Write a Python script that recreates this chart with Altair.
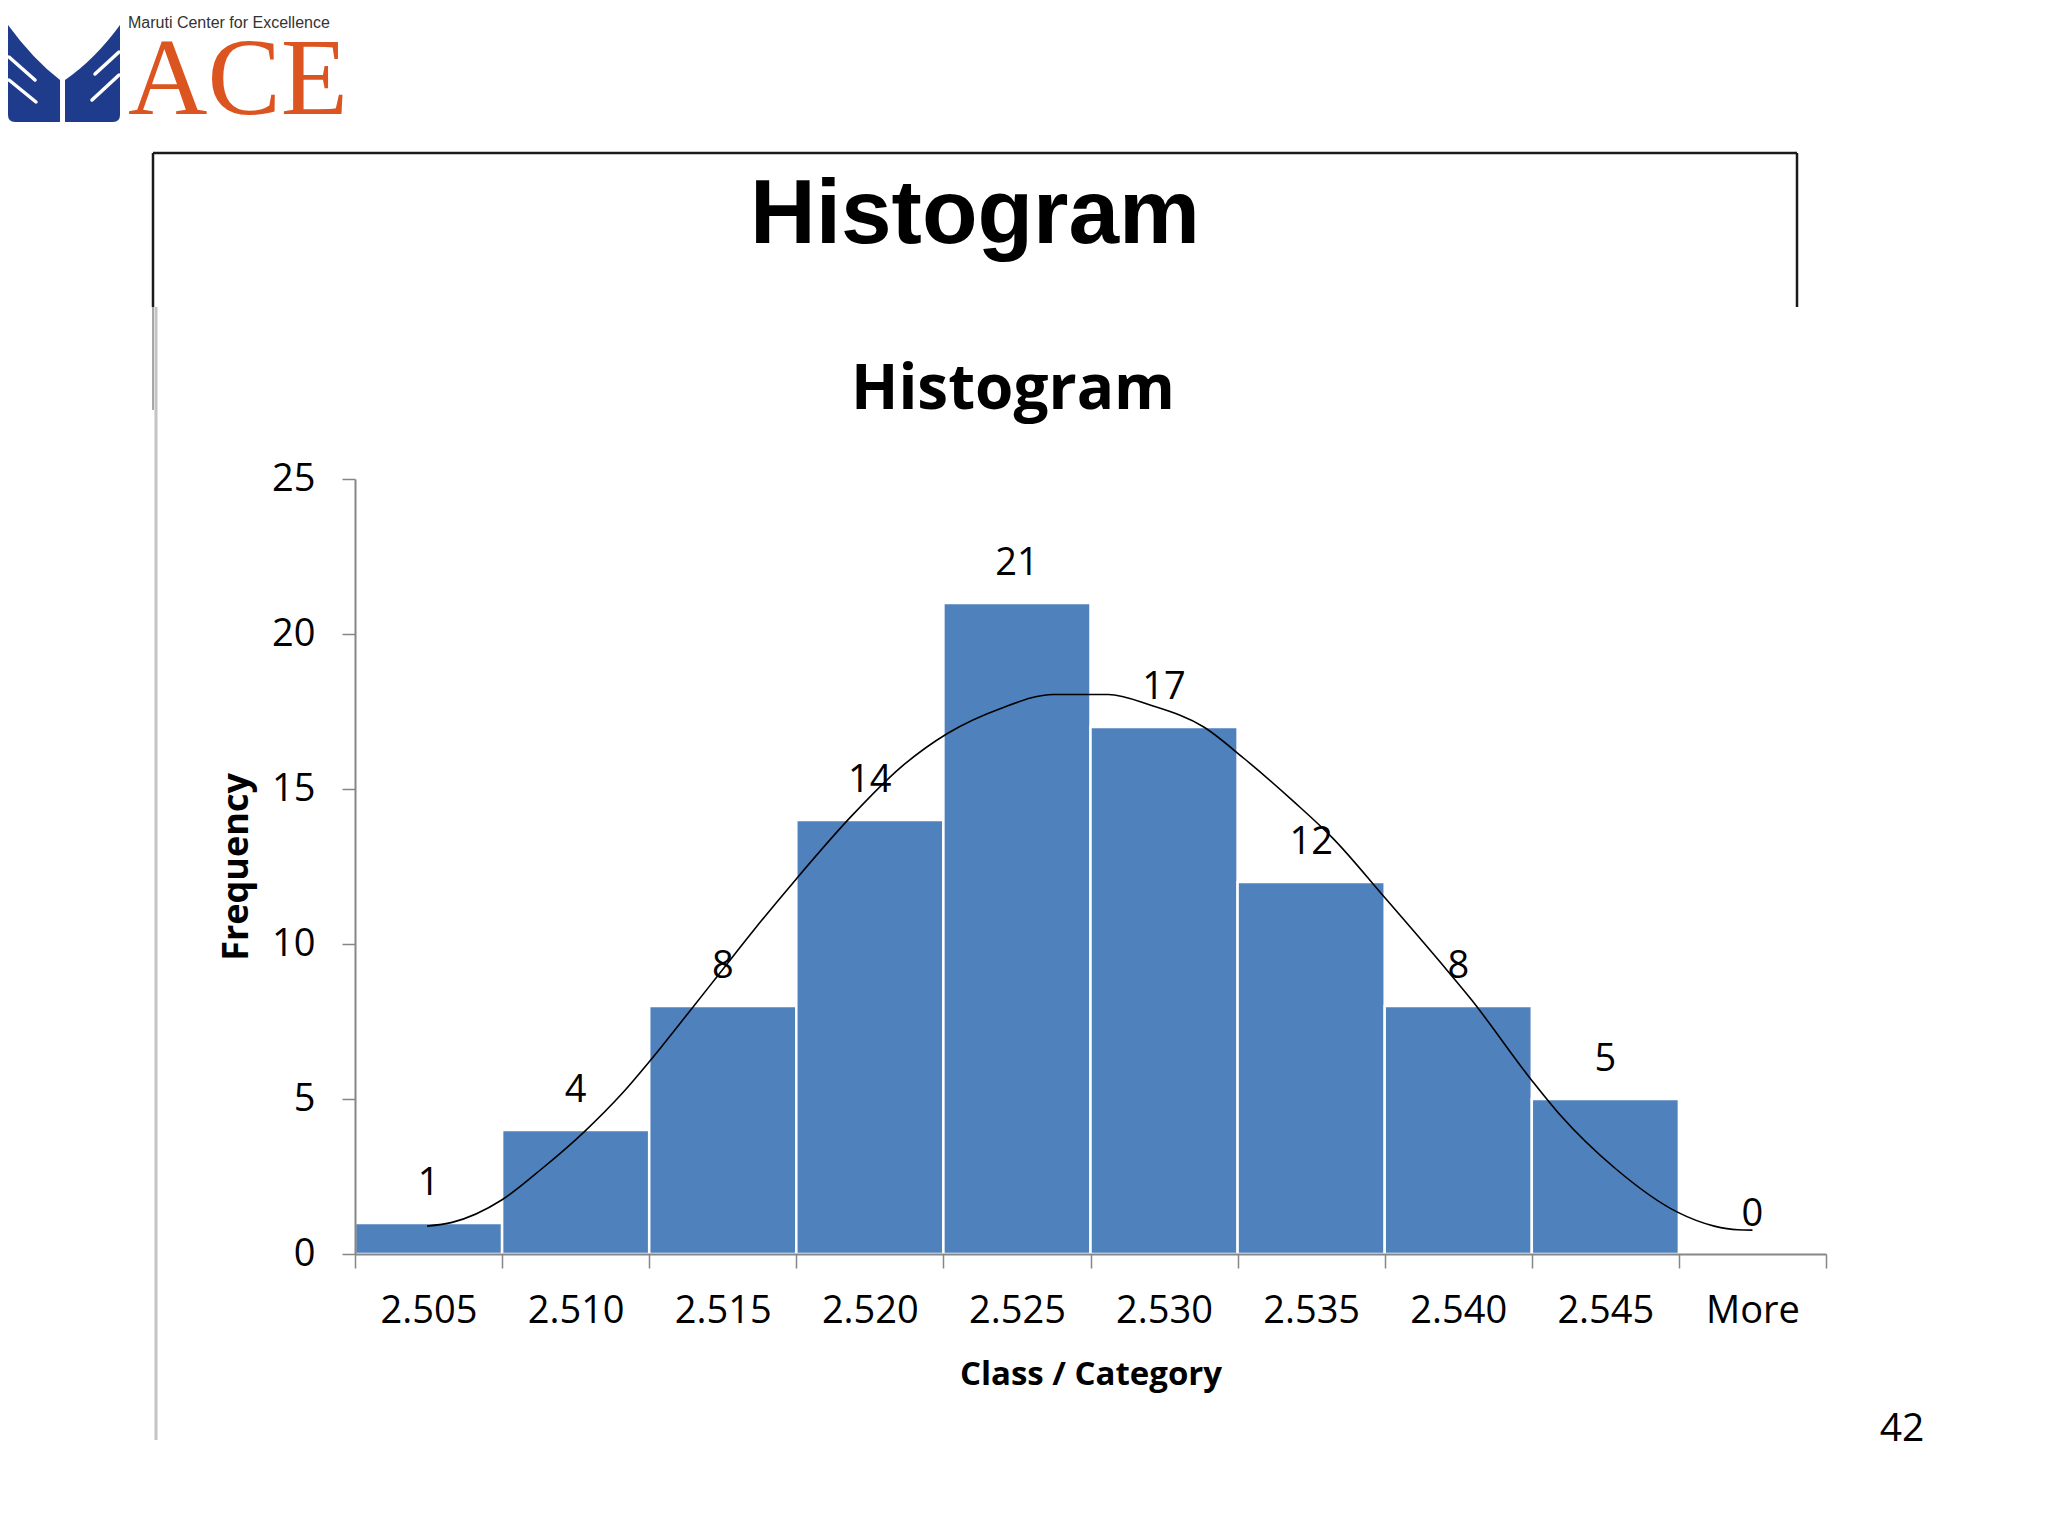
import json

import altair as alt
import pandas as pd

# ---------------------------------------------------------------- data
categories = ["2.505", "2.510", "2.515", "2.520", "2.525",
              "2.530", "2.535", "2.540", "2.545", "More"]
frequencies = [1, 4, 8, 14, 21, 17, 12, 8, 5, 0]

# smoothed fit curve; position in bin units from the left end of the axis
curve_pos = [0.49, 0.66, 1.0, 1.27, 1.56, 1.82, 2.0, 2.27, 2.47, 2.72, 3.0,
             3.37, 3.71, 4.03, 4.39, 4.75, 5.12, 5.41, 5.77, 6.04, 6.38,
             6.65, 7.0, 7.38, 7.59, 8.0, 8.19, 8.57, 8.99, 9.24, 9.4, 9.5]
curve_freq = [0.9, 1.02, 1.75, 2.75, 3.95, 5.2, 6.2, 7.8, 9.0, 10.5, 12.1,
              14.1, 15.7, 16.8, 17.6, 18.05, 18.05, 17.7, 17.0, 16.0, 14.6,
              13.4, 11.5, 9.4, 8.2, 5.6, 4.5, 2.75, 1.35, 0.9, 0.78, 0.77]
y_ticks = [0, 5, 10, 15, 20, 25]

X_TITLE = "Class / Category"
Y_TITLE = "Frequency"

# ---------------------------------------------------------------- layout
CANVAS_W, CANVAS_H = 2048, 1536
LEFT, TOP = 355, 479
PLOT_W, PLOT_H = 1471, 775

FONT = "Open Sans"
AXIS_GRAY = "#868686"
BAR_BLUE = "#4F81BD"


def px(x):
    return x - LEFT


def py(y):
    return y - TOP


n = len(categories)
bins = pd.DataFrame({"category": categories, "freq": frequencies,
                     "start": list(range(n))})
bins["end"] = bins["start"] + 1
bins["mid"] = bins["start"] + 0.5
fit = pd.DataFrame({"pos": curve_pos, "freq": curve_freq})
one = pd.DataFrame({"k": [0]})

label_expr = f"datum.value < {n} ? {json.dumps(categories)}[datum.value] : ''"

x_scale = alt.Scale(domain=[0, n], nice=False, zero=False)
y_scale = alt.Scale(domain=[y_ticks[0], y_ticks[-1]], nice=False)

x_axis = alt.Axis(
    values=list(range(n + 1)), labelExpr=label_expr,
    labelOffset=PLOT_W / n / 2, labelFlush=False, labelOverlap=False,
    labelFont=FONT, labelFontSize=38, labelColor="black", labelPadding=24,
    tickSize=14, tickColor=AXIS_GRAY, tickWidth=1.5,
    domainColor=AXIS_GRAY, domainWidth=2, grid=False,
    titleFont=FONT, titleFontSize=33,
    titleFontWeight="bold", titleColor="black", titlePadding=28, zindex=1,
)
y_axis = alt.Axis(
    values=y_ticks, labelFont=FONT, labelFontSize=38, labelColor="black",
    labelPadding=27, tickSize=13, tickColor=AXIS_GRAY, tickWidth=1.5,
    domainColor=AXIS_GRAY, domainWidth=2, grid=False,
    titleFont=FONT, titleFontSize=36,
    titleFontWeight="bold", titleColor="black", titlePadding=16, zindex=1,
)

bars = alt.Chart(bins).mark_bar(
    color=BAR_BLUE, stroke="white", strokeWidth=2.5
).encode(
    x=alt.X("start:Q", scale=x_scale, axis=x_axis, title=X_TITLE),
    x2="end:Q",
    y=alt.Y("freq:Q", scale=y_scale, axis=y_axis, title=Y_TITLE),
    y2=alt.datum(0),
)

fit_line = alt.Chart(fit).mark_line(
    color="black", strokeWidth=1.6, interpolate="monotone"
).encode(
    x=alt.X("pos:Q", title=X_TITLE),
    y=alt.Y("freq:Q", title=Y_TITLE),
)

value_labels = alt.Chart(bins).mark_text(
    font=FONT, fontSize=38, baseline="alphabetic", dy=-28, color="black"
).encode(
    x=alt.X("mid:Q", title=X_TITLE),
    y=alt.Y("freq:Q", title=Y_TITLE),
    text="freq:Q",
)


def text_at(x, y, text, **kw):
    return alt.Chart(one).mark_text(text=text, baseline="alphabetic", **kw).encode(
        x=alt.value(px(x)), y=alt.value(py(y)))


def rule(x1, y1, x2, y2, color, width, cap="butt"):
    return alt.Chart(one).mark_rule(
        color=color, strokeWidth=width, strokeCap=cap
    ).encode(x=alt.value(px(x1)), y=alt.value(py(y1)),
             x2=alt.value(px(x2)), y2=alt.value(py(y2)))


chart_title = text_at(1013, 409, "Histogram", font=FONT, fontSize=62,
                      fontWeight="bold", align="center", color="black")
slide_title = text_at(975, 243, "Histogram", font="Liberation Sans",
                      fontSize=91, fontWeight="bold", align="center",
                      color="black")
slide_number = text_at(1902, 1441, "42", font=FONT, fontSize=39,
                       align="center", color="black")

# slide frame and the edge of the embedded chart picture
frame = [
    rule(153, 153, 1797, 153, "#1a1a1a", 2.5),
    rule(153, 153, 153, 307, "#1a1a1a", 2.5),
    rule(1797, 153, 1797, 307, "#1a1a1a", 2.5),
    rule(156, 307, 156, 1440, "#c4c4c4", 3),
    rule(153, 307, 153, 410, "#8a8a8a", 1.5),
]

# logo: two wings, tagline and lettering
wings_path = (
    "M -1 -0.866 Q -0.55 -0.25 -0.071 0.116 L -0.071 0.866 L -0.875 0.866 "
    "Q -1 0.866 -1 0.741 Z "
    "M 1 -0.866 Q 0.55 -0.25 0.018 0.116 L 0.018 0.866 L 0.875 0.866 "
    "Q 1 0.866 1 0.741 Z"
)
wings = alt.Chart(one).mark_point(
    shape=wings_path, filled=True, size=112 * 112, color="#1F3C8C",
    opacity=1, strokeWidth=0
).encode(x=alt.value(px(64)), y=alt.value(py(73.5)))
stripes = [
    rule(9, 57, 35, 80, "white", 3.5, "round"),
    rule(9, 80, 36, 102, "white", 3.5, "round"),
    rule(119, 52, 95, 74, "white", 3.5, "round"),
    rule(119, 75, 92, 100, "white", 3.5, "round"),
]
tagline = text_at(128, 28, "Maruti Center for Excellence",
                  font="Liberation Sans", fontSize=16, align="left",
                  color="#333333")
ace = text_at(128, 114, "ACE", font="Liberation Serif", fontSize=110,
              align="left", color="#DC5420")

chart = alt.layer(
    bars, fit_line, value_labels, chart_title, slide_title, slide_number,
    *frame, wings, *stripes, tagline, ace,
).properties(
    width=PLOT_W,
    height=PLOT_H,
    autosize=alt.AutoSizeParams(type="none"),
    padding={"left": LEFT, "top": TOP,
             "right": CANVAS_W - LEFT - PLOT_W,
             "bottom": CANVAS_H - TOP - PLOT_H},
    background="white",
).configure_view(stroke=None)

chart.save("out.html", embed_options={"renderer": "svg", "actions": False})
